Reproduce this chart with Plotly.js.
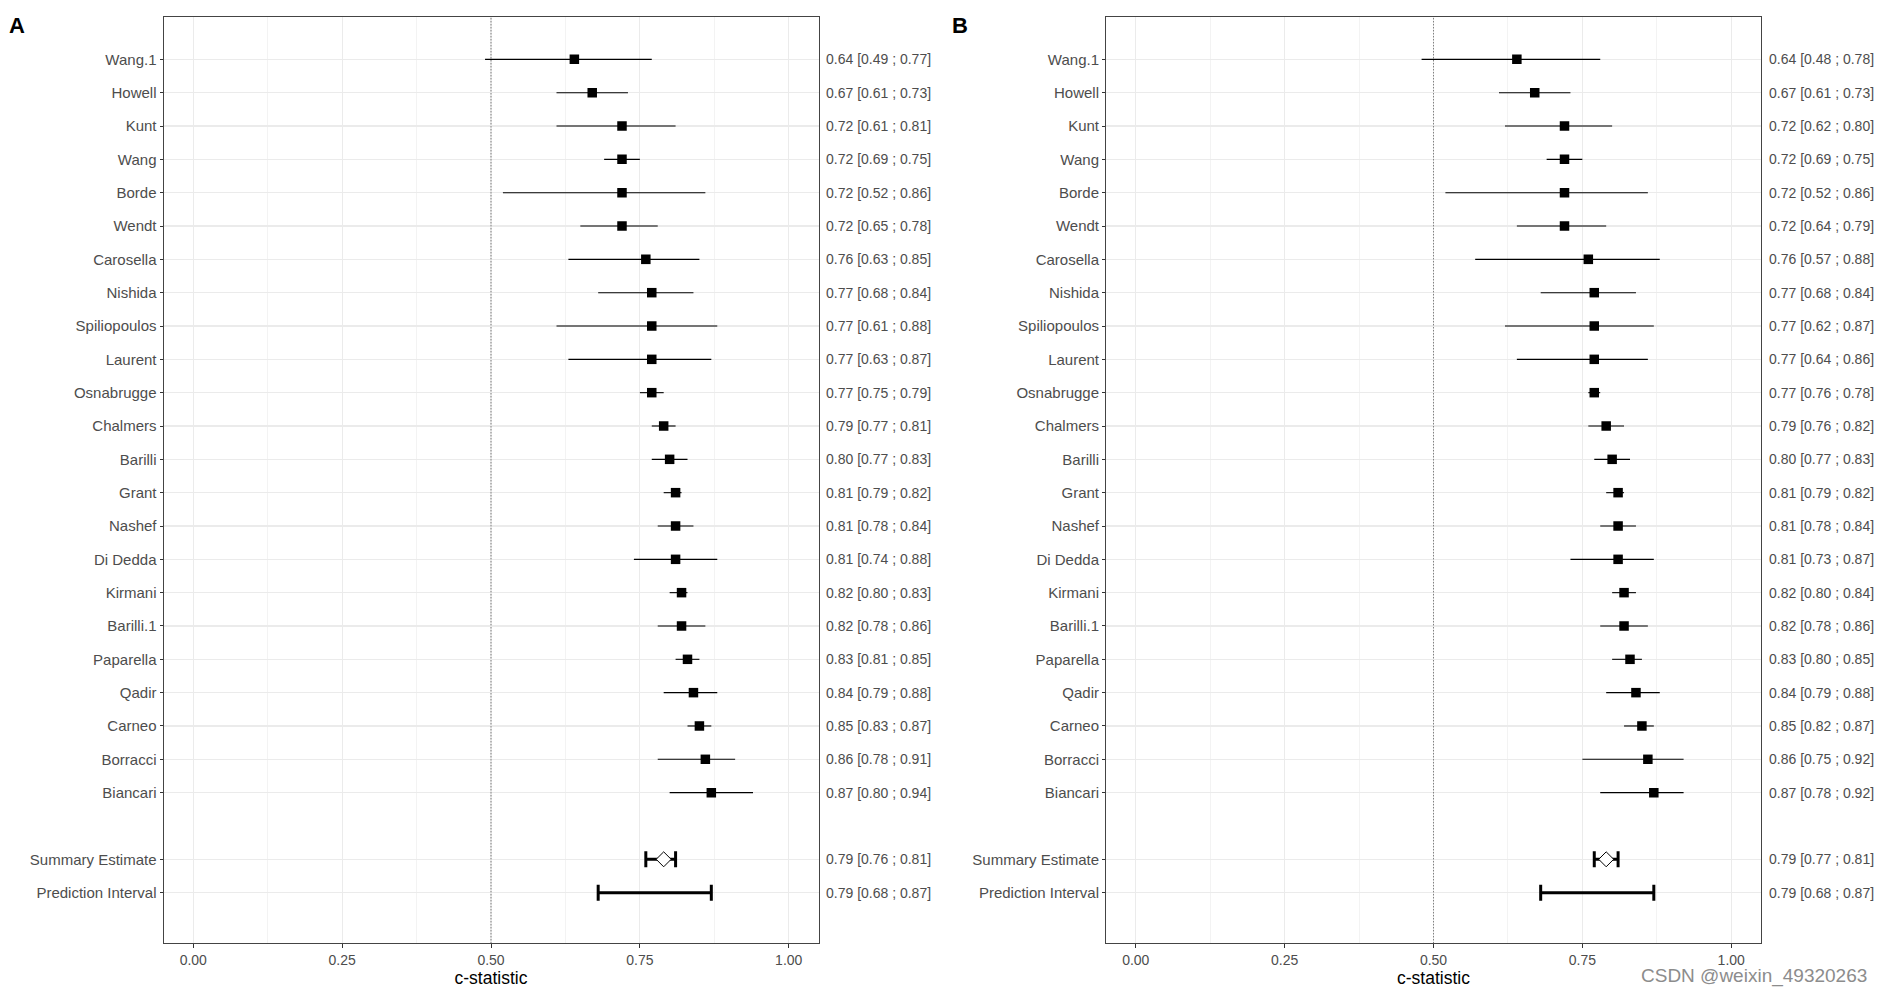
<!DOCTYPE html>
<html>
<head>
<meta charset="utf-8">
<script src="https://cdn.plot.ly/plotly-3.0.1.min.js"></script>
<style>html,body{margin:0;padding:0;background:#fff;}#chart{width:1885px;height:995px;}</style>
</head>
<body>
<div id="chart"></div>
<script>
// ---- data ----
const studies = ["Wang.1","Howell","Kunt","Wang","Borde","Wendt","Carosella","Nishida","Spiliopoulos","Laurent","Osnabrugge","Chalmers","Barilli","Grant","Nashef","Di Dedda","Kirmani","Barilli.1","Paparella","Qadir","Carneo","Borracci","Biancari"];

const estA = [0.64,0.67,0.72,0.72,0.72,0.72,0.76,0.77,0.77,0.77,0.77,0.79,0.80,0.81,0.81,0.81,0.82,0.82,0.83,0.84,0.85,0.86,0.87];
const loA  = [0.49,0.61,0.61,0.69,0.52,0.65,0.63,0.68,0.61,0.63,0.75,0.77,0.77,0.79,0.78,0.74,0.80,0.78,0.81,0.79,0.83,0.78,0.80];
const hiA  = [0.77,0.73,0.81,0.75,0.86,0.78,0.85,0.84,0.88,0.87,0.79,0.81,0.83,0.82,0.84,0.88,0.83,0.86,0.85,0.88,0.87,0.91,0.94];

const estB = [0.64,0.67,0.72,0.72,0.72,0.72,0.76,0.77,0.77,0.77,0.77,0.79,0.80,0.81,0.81,0.81,0.82,0.82,0.83,0.84,0.85,0.86,0.87];
const loB  = [0.48,0.61,0.62,0.69,0.52,0.64,0.57,0.68,0.62,0.64,0.76,0.76,0.77,0.79,0.78,0.73,0.80,0.78,0.80,0.79,0.82,0.75,0.78];
const hiB  = [0.78,0.73,0.80,0.75,0.86,0.79,0.88,0.84,0.87,0.86,0.78,0.82,0.83,0.82,0.84,0.87,0.84,0.86,0.85,0.88,0.87,0.92,0.92];

const pooledLabels = ["Summary Estimate","Prediction Interval"];
const pooledEstA = [0.79,0.79];
const pooledLoA  = [0.76,0.68];
const pooledHiA  = [0.81,0.87];
const pooledEstB = [0.79,0.79];
const pooledLoB  = [0.77,0.68];
const pooledHiB  = [0.81,0.87];

const xTickVals = [0,0.25,0.5,0.75,1];
const xTickText = ["0.00","0.25","0.50","0.75","1.00"];
const panelLabels = ["A","B"];
const xTitle = "c-statistic";
const watermark = "CSDN @weixin_49320263";

// ---- build ----
const FONT = "Liberation Sans, Arial, Helvetica, sans-serif";
const studyY = studies.map((_, i) => i);
const pooledY = [studies.length + 1, studies.length + 2];
const allY = studyY.concat(pooledY);
const allLabels = studies.concat(pooledLabels);

const W = 1885, H = 995;
const domA = [163.5 / W, 818.5 / W];
const domB = [1106 / W, 1761 / W];
const yDom = [1 - 943.3 / H, 1 - 16.7 / H];

function fmt(e, l, h) { return e.toFixed(2) + " [" + l.toFixed(2) + " ; " + h.toFixed(2) + "]"; }

const traces = [];
const annotations = [];
const shapes = [];

function addPanel(est, lo, hi, pEst, pLo, pHi, xa, ya) {
  // study CIs
  traces.push({
    type: "scatter", mode: "markers", x: est, y: studyY, xaxis: xa, yaxis: ya,
    marker: {size: 1, color: "rgba(0,0,0,0)"},
    error_x: {type: "data", symmetric: false,
      array: est.map((e, i) => hi[i] - e), arrayminus: est.map((e, i) => e - lo[i]),
      thickness: 1.1, width: 0, color: "#000"},
    hoverinfo: "skip", showlegend: false
  });
  // study points
  traces.push({
    type: "scatter", mode: "markers", x: est, y: studyY, xaxis: xa, yaxis: ya,
    marker: {symbol: "square", size: 9.5, color: "#000"},
    showlegend: false
  });
  // pooled intervals (thick with caps)
  traces.push({
    type: "scatter", mode: "markers", x: pEst, y: pooledY, xaxis: xa, yaxis: ya,
    marker: {size: 1, color: "rgba(0,0,0,0)"},
    error_x: {type: "data", symmetric: false,
      array: pEst.map((e, i) => pHi[i] - e), arrayminus: pEst.map((e, i) => e - pLo[i]),
      thickness: 3, width: 8, color: "#000"},
    hoverinfo: "skip", showlegend: false
  });
  // summary diamond
  traces.push({
    type: "scatter", mode: "markers", x: [pEst[0]], y: [pooledY[0]], xaxis: xa, yaxis: ya,
    marker: {symbol: "diamond", size: 11.5, color: "#fff", line: {color: "#000", width: 1}},
    showlegend: false
  });
  // right-side text
  const texts = est.map((e, i) => fmt(e, lo[i], hi[i])).concat(pEst.map((e, i) => fmt(e, pLo[i], pHi[i])));
  texts.forEach((t, i) => {
    annotations.push({
      xref: xa + " domain", yref: ya, x: 1, y: allY[i], xanchor: "left", yanchor: "middle",
      xshift: 6, text: t, showarrow: false, font: {family: FONT, size: 14, color: "#4D4D4D"}
    });
  });
  // reference line at 0.5
  shapes.push({type: "line", xref: xa, yref: ya + " domain", x0: 0.5, x1: 0.5, y0: 0, y1: 1,
    line: {color: "#555", width: 1, dash: "1px,2px"}, layer: "above"});
}

addPanel(estA, loA, hiA, pooledEstA, pooledLoA, pooledHiA, "x", "y");
addPanel(estB, loB, hiB, pooledEstB, pooledLoB, pooledHiB, "x2", "y2");

function xAxis(dom) {
  return {
    domain: dom, range: [-0.05, 1.05], anchor: dom === domA ? "y" : "y2",
    tickvals: xTickVals, ticktext: xTickText, ticks: "outside", ticklen: 4, tickwidth: 1, tickcolor: "#333",
    tickfont: {family: FONT, size: 14, color: "#4D4D4D"},
    showgrid: true, gridcolor: "#EBEBEB", gridwidth: 1.2,
    minor: {dtick: 0.125, tick0: 0, showgrid: true, gridcolor: "#F0F0F0", gridwidth: 0.8, ticks: ""},
    showline: true, linecolor: "#444", linewidth: 1, mirror: true, zeroline: false,
    title: {text: xTitle, font: {family: FONT, size: 17.5, color: "#000"}, standoff: 4},
    fixedrange: true
  };
}
function yAxis(xa) {
  return {
    domain: yDom, range: [26.52, -1.28], anchor: xa,
    tickvals: allY, ticktext: allLabels, ticks: "outside", ticklen: 3, tickwidth: 1, tickcolor: "#333",
    tickfont: {family: FONT, size: 15, color: "#4D4D4D"},
    showgrid: true, gridcolor: "#EBEBEB", gridwidth: 1.2,
    showline: true, linecolor: "#444", linewidth: 1, mirror: true, zeroline: false,
    fixedrange: true
  };
}

annotations.push({xref: "paper", yref: "paper", x: 7 / W, y: 1 - 25.5 / H, xanchor: "left", yanchor: "middle",
  text: "<b>" + panelLabels[0] + "</b>", showarrow: false, font: {family: FONT, size: 22, color: "#000"}});
annotations.push({xref: "paper", yref: "paper", x: 950 / W, y: 1 - 25.5 / H, xanchor: "left", yanchor: "middle",
  text: "<b>" + panelLabels[1] + "</b>", showarrow: false, font: {family: FONT, size: 22, color: "#000"}});
annotations.push({xref: "paper", yref: "paper", x: 1639 / W, y: 1 - 976 / H, xanchor: "left", yanchor: "middle",
  text: watermark, showarrow: false, font: {family: FONT, size: 19, color: "#8C8C8C"}});

const layout = {
  width: W, height: H, margin: {l: 0, r: 0, t: 0, b: 0},
  paper_bgcolor: "#fff", plot_bgcolor: "#fff", showlegend: false,
  xaxis: xAxis(domA), yaxis: yAxis("x"),
  xaxis2: xAxis(domB), yaxis2: yAxis("x2"),
  annotations: annotations, shapes: shapes,
  font: {family: FONT}
};

Plotly.newPlot("chart", traces, layout, {displayModeBar: false, staticPlot: true});
</script>
</body>
</html>
